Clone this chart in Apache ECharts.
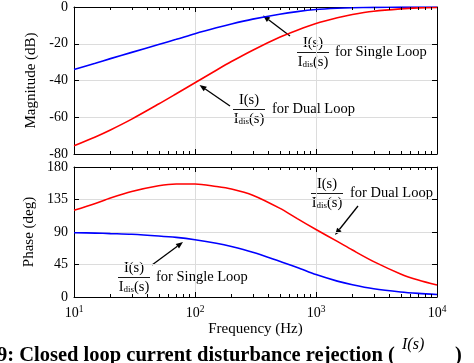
<!DOCTYPE html>
<html>
<head>
<meta charset="utf-8">
<script src="https://cdn.jsdelivr.net/npm/echarts@6/dist/echarts.min.js"></script>
<style>
html,body{margin:0;padding:0;background:#fff;}
#chart{width:474px;height:363px;}
</style>
</head>
<body>
<div id="chart"></div>
<script>
// ---- data ----
const freqs = [10, 15, 20, 30, 50, 70, 100, 150, 200, 300, 500, 700, 1000, 1500, 2000, 3000, 5000, 7000, 10000];
const magSingle = [-34, -30.6, -28.1, -24.7, -20.4, -17.6, -14.5, -11.3, -9.2, -6.6, -3.9, -2.5, -1.4, -0.7, -0.4, -0.2, -0.08, -0.04, -0.02];
const magDual = [-75.5, -70.7, -66.9, -61, -52.8, -47.2, -41.2, -34.4, -29.7, -23.5, -16.5, -12.6, -9, -5.9, -4.1, -2.3, -1, -0.5, -0.27];
const phaseSingle = [89, 88.5, 87.8, 86.8, 84.5, 82.5, 79.3, 74.5, 70, 62, 49.5, 41, 31, 22, 17, 11.5, 7, 5, 3.5];
const phaseDual = [120, 129.5, 137, 146, 154, 156.5, 156.5, 153, 149.5, 141, 123, 108.5, 93.5, 77, 65, 49, 32, 23.5, 16.5];
const magTicks = [-80, -60, -40, -20, 0];
const phaseTicks = [0, 45, 90, 135, 180];
const minorFreqs = [];
[10, 100, 1000].forEach(d => { for (let k = 2; k <= 9; k++) minorFreqs.push(k * d); });

const SERIF = '"Liberation Serif", "DejaVu Serif", serif';
const RED = '#ff0000', BLUE = '#0000ff';

const chart = echarts.init(document.getElementById('chart'), null, {renderer: 'canvas'});

function pairs(ys) { return freqs.map((f, i) => [f, ys[i]]); }

function xAxisBase(gridIndex, position, showLabels, showSplit) {
  return {
    type: 'log', logBase: 10, min: 10, max: 10000, gridIndex, position,
    axisLine: {show: true, onZero: false, lineStyle: {color: '#000', width: 1}},
    axisTick: {show: true, inside: true, length: 5, lineStyle: {color: '#000'}},
    axisLabel: {
      show: showLabels, margin: 7, color: '#000',
      formatter: v => '{b|10}{s|' + Math.round(Math.log10(v)) + '}',
      rich: {
        b: {fontFamily: SERIF, fontSize: 14, color: '#000'},
        s: {fontFamily: SERIF, fontSize: 9.5, color: '#000', padding: [0, 0, 9, 0]}
      }
    },
    splitLine: {show: showSplit, lineStyle: {color: '#dcdcdc', width: 1}},
    minorTick: {show: false}
  };
}
function yAxisBase(gridIndex, position, min, max, interval, showLabels, showSplit) {
  return {
    type: 'value', gridIndex, position, min, max, interval,
    axisLine: {show: true, onZero: false, lineStyle: {color: '#000', width: 1}},
    axisTick: {show: true, inside: true, length: 5, lineStyle: {color: '#000'}},
    axisLabel: {show: showLabels, margin: 6, color: '#000', fontFamily: SERIF, fontSize: 14},
    splitLine: {show: showSplit, lineStyle: {color: '#dcdcdc', width: 1}}
  };
}

const xAxes = [
  xAxisBase(0, 'bottom', false, true),
  xAxisBase(0, 'top', false, false),
  Object.assign(xAxisBase(1, 'bottom', true, true), {
    name: 'Frequency (Hz)', nameLocation: 'middle', nameGap: 23,
    nameTextStyle: {fontFamily: SERIF, fontSize: 15, color: '#000'}
  }),
  xAxisBase(1, 'top', false, false)
];
const yAxes = [
  Object.assign(yAxisBase(0, 'left', magTicks[0], magTicks[magTicks.length - 1], 20, true, true), {
    name: 'Magnitude (dB)', nameLocation: 'middle', nameGap: 33, nameRotate: 90,
    nameTextStyle: {fontFamily: SERIF, fontSize: 15, color: '#000'}
  }),
  yAxisBase(0, 'right', -80, 0, 20, false, false),
  Object.assign(yAxisBase(1, 'left', phaseTicks[0], phaseTicks[phaseTicks.length - 1], 45, true, true), {
    name: 'Phase (deg)', nameLocation: 'middle', nameGap: 33, nameRotate: 90,
    nameTextStyle: {fontFamily: SERIF, fontSize: 15, color: '#000'}
  }),
  yAxisBase(1, 'right', 0, 180, 45, false, false)
];

function minorTickSeries(xi, yi, yMid) {
  return {
    type: 'custom', xAxisIndex: xi, yAxisIndex: yi, silent: true, z: 5,
    data: minorFreqs.map(f => [f, yMid]),
    renderItem: function (params, api) {
      const cs = params.coordSys;
      const x = Math.round(api.coord([api.value(0), api.value(1)])[0]) + 0.5;
      const yb = cs.y + cs.height, yt = cs.y;
      return {type: 'group', children: [
        {type: 'line', shape: {x1: x, y1: yb, x2: x, y2: yb - 3}, style: {stroke: '#000', lineWidth: 1}},
        {type: 'line', shape: {x1: x, y1: yt, x2: x, y2: yt + 3}, style: {stroke: '#000', lineWidth: 1}}
      ]};
    }
  };
}
function lineSeries(name, xi, yi, ys, color) {
  return {
    name, type: 'line', xAxisIndex: xi, yAxisIndex: yi, data: pairs(ys),
    showSymbol: false, smooth: 0.3, z: 3,
    lineStyle: {color, width: 1.6}
  };
}

// ---- annotation helpers (text + arrows) ----
const F = '14.5px ' + SERIF;
function fraction(cx, barY, halfW) {
  return [
    {type: 'text', style: {text: 'I(s)', x: cx, y: barY - 8.5, font: F, fill: '#000', align: 'center', verticalAlign: 'middle'}},
    {type: 'line', shape: {x1: cx - halfW, y1: barY + 0.5, x2: cx + halfW, y2: barY + 0.5}, style: {stroke: '#000', lineWidth: 0.9}},
    {type: 'text', style: {
      text: '{n|I}{s|dis}{n|(s)}', x: cx, y: barY + 10, align: 'center', verticalAlign: 'middle',
      rich: {
        n: {font: F, fill: '#000'},
        s: {fontFamily: SERIF, fontSize: 9, fill: '#000', padding: [5, 0, 0, 0]}
      }
    }}
  ];
}
function label(x, y, text) {
  return {type: 'text', style: {text, x, y, font: F, fill: '#000', align: 'left', verticalAlign: 'middle'}};
}
function arrow(x1, y1, x2, y2) {
  const ang = Math.atan2(y2 - y1, x2 - x1), L = 7, W = 2.8;
  const bx = x2 - L * Math.cos(ang), by = y2 - L * Math.sin(ang);
  const px = -Math.sin(ang) * W, py = Math.cos(ang) * W;
  return [
    {type: 'line', shape: {x1, y1, x2: bx, y2: by}, style: {stroke: '#000', lineWidth: 1.3}},
    {type: 'polygon', shape: {points: [[x2, y2], [bx + px, by + py], [bx - px, by - py]]}, style: {fill: '#000'}}
  ];
}

const graphics = [].concat(
  fraction(313, 52, 16), [label(335, 52, 'for Single Loop')], arrow(290, 36, 263, 15.5),
  fraction(249, 109, 16), [label(272, 109, 'for Dual Loop')], arrow(230, 106, 199.5, 85),
  fraction(134, 277, 16), [label(156, 277, 'for Single Loop')], arrow(152, 265, 183, 242),
  fraction(327, 193, 16), [label(350, 193, 'for Dual Loop')], arrow(358, 206, 335, 235),
  [
    {type: 'text', style: {text: '9: Closed loop current disturbance rejection (', x: -3, y: 345, font: 'bold 20.5px ' + SERIF, fill: '#000', align: 'left', verticalAlign: 'top'}},
    {type: 'text', style: {text: 'I(s)', x: 402, y: 337, font: 'italic 16px ' + SERIF, fill: '#000', align: 'left', verticalAlign: 'top'}},
    {type: 'text', style: {text: ')', x: 455, y: 345, font: 'bold 20.5px ' + SERIF, fill: '#000', align: 'left', verticalAlign: 'top'}}
  ]
);

chart.setOption({
  animation: false,
  backgroundColor: '#fff',
  grid: [
    {left: 74, right: 37, top: 6, height: 148, containLabel: false},
    {left: 74, right: 37, top: 167, height: 130, containLabel: false}
  ],
  xAxis: xAxes,
  yAxis: yAxes,
  series: [
    lineSeries('Single Loop |I/Idis|', 0, 0, magSingle, BLUE),
    lineSeries('Dual Loop |I/Idis|', 0, 0, magDual, RED),
    lineSeries('Single Loop phase', 2, 2, phaseSingle, BLUE),
    lineSeries('Dual Loop phase', 2, 2, phaseDual, RED),
    minorTickSeries(0, 0, -40),
    minorTickSeries(2, 2, 90)
  ],
  graphic: graphics
});
</script>
</body>
</html>
